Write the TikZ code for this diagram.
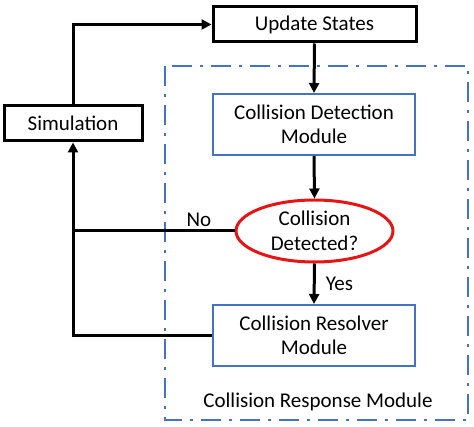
\documentclass[tikz,border=0pt]{standalone}
\usepackage{fontspec}
\setmainfont{Carlito}
\usepackage{tikz}
\usetikzlibrary{arrows.meta, shapes.geometric, calc}

\definecolor{boxblue}{RGB}{68,114,196}
\definecolor{askred}{RGB}{230,20,20}

\begin{document}
\begin{tikzpicture}[x=1pt, y=-1pt,
        every node/.style={font=\fontsize{21}{24.5}\selectfont, align=center, inner sep=0pt},
        blackbox/.style={draw=black, line width=3pt, minimum height=35pt},
        bluebox/.style={draw=boxblue, line width=2pt, minimum width=202pt, minimum height=61pt},
        flow/.style={line width=3pt, -{Triangle[length=10pt,width=10pt]}},
        link/.style={line width=3pt}]
        \useasboundingbox (0,0) rectangle (474,427);

        % group frame
        \draw[boxblue, line width=2pt, dash pattern=on 20pt off 8pt on 3pt off 8pt] (165,66) rectangle (468,420);
        \node (group) at (318,402) {Collision Response Module};

        % boxes
        \node[blackbox, minimum width=203pt] (update) at (314.5,24.5) {Update States};
        \node[blackbox, minimum width=138pt] (sim) at (73,123.5) {Simulation};
        \node[bluebox] (detect) at (314,124.5) {Collision Detection\\Module};
        \node[ellipse, draw=askred, line width=3pt, minimum width=157pt, minimum height=62pt] (ask) at (314.5,231) {Collision\\Detected?};
        \node[bluebox] (resolve) at (314,335.5) {Collision Resolver\\Module};

        % connectors
        \draw[flow] (sim.north) |- (update.west);
        \draw[flow] (update.south) -- (detect.north);
        \draw[flow] (detect.south) -- (ask.north);
        \draw[flow] (ask.south) -- (resolve.north) node[anchor=west, midway, xshift=10pt] {Yes};
        \draw[link] (ask.west) -- (sim.south |- ask.west) node[anchor=south, pos=0.22, yshift=3pt] {No};
        \draw[flow] (resolve.west) -| (sim.south);
\end{tikzpicture}
\end{document}
